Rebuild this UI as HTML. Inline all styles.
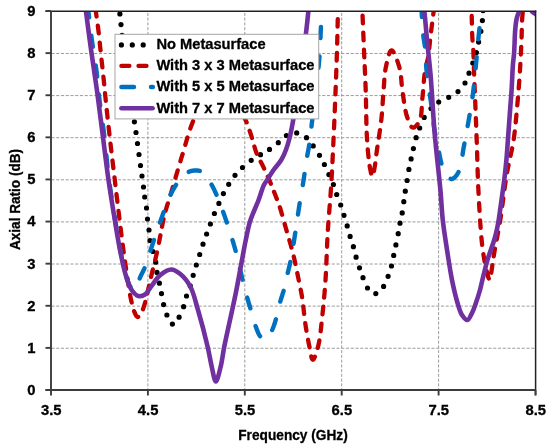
<!DOCTYPE html>
<html><head><meta charset="utf-8"><title>Axial Ratio chart</title>
<style>html,body{margin:0;padding:0;background:#fff;width:550px;height:447px;overflow:hidden}svg{display:block}</style>
</head><body>
<svg width="550" height="447" viewBox="0 0 550 447">
<defs><clipPath id="pa"><rect x="51" y="11" width="484.6" height="379"/></clipPath></defs>
<rect width="550" height="447" fill="#fff"/>
<g stroke="#9c9c9c" stroke-width="1" stroke-dasharray="3.1 1.65" fill="none"><line x1="51" y1="348.24" x2="535.5" y2="348.24" stroke-dashoffset="4.3"/><line x1="51" y1="306.13" x2="535.5" y2="306.13" stroke-dashoffset="4.3"/><line x1="51" y1="264.02" x2="535.5" y2="264.02" stroke-dashoffset="4.3"/><line x1="51" y1="221.91" x2="535.5" y2="221.91" stroke-dashoffset="4.3"/><line x1="51" y1="179.80" x2="535.5" y2="179.80" stroke-dashoffset="4.3"/><line x1="51" y1="137.69" x2="535.5" y2="137.69" stroke-dashoffset="4.3"/><line x1="51" y1="95.58" x2="535.5" y2="95.58" stroke-dashoffset="4.3"/><line x1="51" y1="53.47" x2="535.5" y2="53.47" stroke-dashoffset="4.3"/><line x1="147.90" y1="11" x2="147.90" y2="390" stroke-dashoffset="2.9"/><line x1="244.80" y1="11" x2="244.80" y2="390" stroke-dashoffset="2.9"/><line x1="341.70" y1="11" x2="341.70" y2="390" stroke-dashoffset="2.9"/><line x1="438.60" y1="11" x2="438.60" y2="390" stroke-dashoffset="2.9"/></g>
<g clip-path="url(#pa)">
<path d="M119.57,3.16h0 M119.90,13.90h0 M121.00,24.60h0 M122.05,35.46h0 M123.11,46.32h0 M124.27,57.17h0 M125.49,68.01h0 M126.84,78.83h0 M128.42,89.63h0 M130.18,100.39h0 M132.21,111.11h0 M134.40,121.80h0 M136.00,132.50h0 M137.50,143.50h0 M139.00,154.50h0 M140.50,165.50h0 M142.00,176.00h0 M143.50,187.00h0 M144.70,197.00h0 M146.50,208.00h0 M147.50,219.00h0 M149.00,230.00h0 M150.00,240.50h0 M153.00,251.50h0 M155.70,262.20h0 M157.00,272.40h0 M159.40,283.20h0 M161.50,293.60h0 M163.60,304.60h0 M166.90,315.00h0 M172.40,324.10h0 M179.10,317.20h0 M183.60,306.70h0 M186.50,296.00h0 M190.30,285.90h0 M193.20,275.30h0 M196.30,265.00h0 M199.70,254.50h0 M203.00,244.20h0 M206.60,234.00h0 M210.40,224.00h0 M214.40,213.50h0 M218.90,203.40h0 M223.40,193.60h0 M228.70,184.30h0 M235.00,175.30h0 M242.50,167.50h0 M251.20,160.30h0 M260.50,154.70h0 M269.50,149.40h0 M278.30,142.70h0 M286.40,135.50h0 M296.70,132.90h0 M306.50,137.70h0 M313.20,145.90h0 M319.50,155.30h0 M324.40,164.50h0 M328.90,174.60h0 M333.40,184.50h0 M336.70,194.50h0 M340.70,205.00h0 M344.00,215.30h0 M347.20,225.90h0 M350.10,236.40h0 M353.40,246.70h0 M356.10,257.20h0 M359.50,267.80h0 M363.00,277.70h0 M367.50,288.00h0 M375.80,293.60h0 M383.60,286.40h0 M388.10,276.30h0 M391.50,266.00h0 M393.70,255.40h0 M395.90,244.90h0 M398.20,233.70h0 M400.00,223.20h0 M402.20,212.90h0 M403.80,201.70h0 M405.30,191.20h0 M407.10,180.50h0 M408.90,169.40h0 M411.10,158.90h0 M413.40,148.60h0 M416.10,137.70h0 M419.70,128.00h0 M424.20,117.40h0 M431.00,108.50h0 M438.70,102.00h0 M448.70,97.30h0 M458.00,91.60h0 M465.00,83.00h0 M469.00,73.20h0 M472.80,63.00h0 M476.40,52.60h0 M478.60,42.10h0 M480.90,31.30h0 M482.40,20.60h0 M483.10,10.70h0" fill="none" stroke="#000" stroke-width="5.2" stroke-linecap="round"/>
<path d="M95.53,8.83 L95.65,9.83 L95.78,10.82 L95.90,11.81 L96.03,12.80 L96.17,13.79 L96.30,14.79 L96.44,15.78 L96.54,16.47 M97.81,25.68 L97.94,26.67 L98.07,27.66 L98.20,28.66 L98.32,29.65 L98.44,30.64 L98.55,31.64 L98.67,32.63 L98.74,33.32 M99.73,42.67 L99.84,43.67 L99.94,44.66 L100.04,45.66 L100.14,46.65 L100.25,47.64 L100.35,48.64 L100.46,49.63 L100.54,50.33 M101.55,59.67 L101.66,60.67 L101.77,61.66 L101.88,62.65 L101.99,63.65 L102.10,64.64 L102.21,65.64 L102.32,66.63 L102.39,67.33 M103.40,76.67 L103.51,77.67 L103.61,78.66 L103.71,79.65 L103.82,80.65 L103.92,81.64 L104.02,82.64 L104.11,83.63 L104.18,84.33 M105.02,93.17 L105.12,94.16 L105.21,95.16 L105.31,96.15 L105.42,97.15 L105.52,98.14 L105.62,99.14 L105.72,100.13 L105.80,100.83 M106.76,110.02 L106.87,111.02 L106.98,112.01 L107.08,113.01 L107.19,114.00 L107.30,114.99 L107.40,115.99 L107.51,116.98 L107.59,117.68 M108.59,126.87 L108.70,127.86 L108.81,128.86 L108.92,129.85 L109.03,130.84 L109.14,131.84 L109.26,132.83 L109.37,133.82 L109.45,134.52 M110.50,143.70 L110.61,144.70 L110.73,145.69 L110.84,146.68 L110.96,147.68 L111.08,148.67 L111.19,149.66 L111.31,150.66 L111.39,151.35 M112.48,160.53 L112.60,161.52 L112.71,162.52 L112.83,163.51 L112.95,164.50 L113.07,165.50 L113.19,166.49 L113.31,167.48 L113.39,168.18 M114.49,177.35 L114.60,178.35 L114.72,179.34 L114.84,180.33 L114.96,181.33 L115.08,182.32 L115.19,183.31 L115.31,184.31 L115.39,185.00 M116.49,194.18 L116.60,195.17 L116.72,196.17 L116.84,197.16 L116.96,198.15 L117.08,199.14 L117.20,200.14 L117.32,201.13 L117.40,201.83 M118.51,211.00 L118.63,211.99 L118.75,212.99 L118.87,213.98 L119.00,214.97 L119.12,215.96 L119.24,216.96 L119.36,217.95 L119.45,218.64 M120.57,227.82 L120.69,228.81 L120.82,229.80 L120.94,230.80 L121.06,231.79 L121.19,232.78 L121.31,233.77 L121.43,234.77 L121.52,235.46 M122.69,244.63 L122.82,245.62 L122.95,246.61 L123.08,247.60 L123.21,248.60 L123.34,249.59 L123.48,250.58 L123.61,251.57 L123.71,252.26 M124.99,261.42 L125.13,262.41 L125.27,263.40 L125.42,264.39 L125.56,265.38 L125.71,266.37 L125.85,267.35 L126.00,268.34 L126.10,269.04 M127.48,278.18 L127.62,279.17 L127.77,280.15 L127.92,281.14 L128.06,282.13 L128.21,283.12 L128.36,284.11 L128.50,285.10 L128.61,285.79 M130.07,294.92 L130.25,295.90 L130.44,296.89 L130.63,297.87 L130.83,298.85 L131.05,299.82 L131.28,300.80 L131.52,301.77 L131.70,302.44 M134.12,311.16 L134.43,312.11 L134.79,313.04 L135.22,313.94 L135.67,314.84 L136.16,315.71 L136.76,316.51 L137.59,317.01 L138.27,316.88 M142.98,309.26 L143.31,308.32 L143.63,307.38 L143.94,306.42 L144.24,305.47 L144.52,304.51 L144.80,303.55 L145.08,302.59 L145.27,301.92 M147.40,293.20 L147.61,292.22 L147.83,291.24 L148.04,290.27 L148.25,289.29 L148.46,288.31 L148.68,287.34 L148.89,286.36 L149.05,285.68 M151.05,276.93 L151.28,275.95 L151.50,274.98 L151.74,274.01 L151.97,273.03 L152.20,272.06 L152.44,271.09 L152.68,270.12 L152.85,269.44 M155.19,259.94 L155.42,258.97 L155.66,257.99 L155.89,257.02 L156.12,256.05 L156.35,255.07 L156.57,254.10 L156.80,253.13 L156.95,252.44 M158.96,242.87 L159.15,241.88 L159.33,240.90 L159.52,239.92 L159.70,238.94 L159.88,237.95 L160.07,236.97 L160.25,235.99 L160.38,235.30 M161.98,226.73 L162.17,225.75 L162.36,224.77 L162.56,223.79 L162.76,222.81 L162.96,221.83 L163.16,220.85 L163.37,219.87 L163.52,219.19 M165.62,210.73 L165.89,209.77 L166.17,208.81 L166.45,207.85 L166.74,206.89 L167.03,205.93 L167.32,204.98 L167.62,204.02 L167.82,203.35 M170.67,194.30 L170.96,193.34 L171.25,192.38 L171.53,191.42 L171.81,190.46 L172.10,189.50 L172.38,188.54 L172.66,187.58 L172.86,186.91 M175.51,177.80 L175.79,176.84 L176.07,175.88 L176.35,174.92 L176.63,173.96 L176.92,173.00 L177.20,172.04 L177.48,171.08 L177.68,170.41 M180.38,161.31 L180.67,160.35 L180.96,159.40 L181.25,158.44 L181.54,157.48 L181.84,156.53 L182.13,155.57 L182.42,154.62 L182.63,153.95 M185.30,144.84 L185.58,143.88 L185.86,142.92 L186.14,141.96 L186.42,141.00 L186.70,140.04 L186.99,139.08 L187.27,138.12 L187.47,137.45 M190.31,128.55 L190.64,127.60 L190.97,126.66 L191.31,125.72 L191.66,124.78 L192.02,123.85 L192.38,122.92 L192.76,121.99 L193.02,121.34 M196.58,113.28 L197.01,112.37 L197.43,111.47 L197.87,110.57 L198.32,109.68 L198.78,108.79 L199.25,107.91 L199.74,107.03 L200.09,106.43 M205.51,99.53 L206.26,98.86 L207.03,98.23 L207.82,97.61 L208.63,97.02 L209.45,96.45 L210.29,95.91 L211.15,95.41 L211.77,95.07 M220.21,93.10 L221.19,93.29 L222.15,93.56 L223.09,93.90 L224.01,94.30 L224.90,94.75 L225.77,95.25 L226.62,95.77 L227.20,96.16 M233.88,101.88 L234.55,102.63 L235.19,103.40 L235.82,104.18 L236.42,104.97 L237.02,105.77 L237.60,106.59 L238.17,107.41 L238.56,107.99 M243.13,115.53 L243.61,116.40 L244.09,117.28 L244.56,118.16 L245.02,119.05 L245.48,119.94 L245.91,120.84 L246.33,121.74 L246.61,122.39 M249.62,130.67 L249.93,131.62 L250.25,132.57 L250.57,133.51 L250.89,134.46 L251.20,135.41 L251.49,136.37 L251.78,137.32 L251.98,138.00 M254.37,146.48 L254.65,147.44 L254.94,148.39 L255.24,149.35 L255.55,150.30 L255.87,151.25 L256.20,152.19 L256.55,153.13 L256.81,153.78 M260.70,161.68 L261.17,162.57 L261.63,163.45 L262.09,164.34 L262.53,165.24 L262.97,166.14 L263.39,167.04 L263.82,167.95 L264.12,168.58 M267.78,176.60 L268.18,177.51 L268.58,178.43 L268.97,179.35 L269.37,180.27 L269.76,181.19 L270.15,182.11 L270.53,183.03 L270.80,183.68 M274.07,191.86 L274.43,192.79 L274.79,193.72 L275.16,194.66 L275.52,195.59 L275.88,196.52 L276.23,197.46 L276.59,198.39 L276.84,199.05 M279.88,207.32 L280.19,208.27 L280.48,209.22 L280.76,210.18 L281.04,211.14 L281.32,212.10 L281.60,213.06 L281.88,214.03 L282.07,214.70 M284.66,223.89 L284.93,224.86 L285.20,225.82 L285.47,226.78 L285.74,227.74 L286.01,228.71 L286.29,229.67 L286.57,230.63 L286.76,231.30 M289.36,240.15 L289.64,241.11 L289.91,242.07 L290.19,243.03 L290.46,243.99 L290.74,244.95 L291.01,245.91 L291.27,246.88 L291.46,247.55 M293.75,256.48 L293.98,257.46 L294.20,258.43 L294.42,259.41 L294.64,260.38 L294.86,261.36 L295.07,262.34 L295.28,263.31 L295.43,264.00 M297.29,273.03 L297.49,274.01 L297.68,274.99 L297.88,275.97 L298.08,276.95 L298.28,277.93 L298.48,278.91 L298.68,279.89 L298.82,280.57 M300.70,289.60 L300.89,290.58 L301.08,291.56 L301.27,292.54 L301.44,293.53 L301.62,294.51 L301.79,295.50 L301.95,296.48 L302.06,297.18 M303.27,306.31 L303.38,307.31 L303.50,308.30 L303.61,309.29 L303.72,310.29 L303.83,311.28 L303.94,312.28 L304.06,313.27 L304.13,313.96 M305.25,323.12 L305.39,324.11 L305.54,325.10 L305.69,326.08 L305.84,327.07 L306.00,328.06 L306.16,329.05 L306.32,330.03 L306.43,330.73 M308.04,339.80 L308.23,340.78 L308.42,341.77 L308.62,342.75 L308.82,343.73 L309.02,344.70 L309.23,345.68 L309.44,346.66 L309.57,347.35 M311.26,356.41 L311.51,357.38 L311.80,358.34 L312.19,359.25 L312.95,359.78 L313.68,359.12 L314.18,358.26 L314.61,357.36 L314.88,356.71 M317.70,347.90 L317.95,346.94 L318.21,345.97 L318.45,345.00 L318.67,344.02 L318.88,343.05 L319.08,342.07 L319.26,341.08 L319.38,340.39 M320.67,331.23 L320.79,330.24 L320.90,329.25 L321.01,328.25 L321.12,327.26 L321.22,326.26 L321.33,325.27 L321.43,324.28 L321.50,323.58 M322.46,314.38 L322.57,313.38 L322.68,312.39 L322.79,311.39 L322.89,310.40 L323.00,309.41 L323.10,308.41 L323.20,307.42 L323.27,306.72 M324.15,297.51 L324.23,296.51 L324.32,295.52 L324.40,294.52 L324.49,293.52 L324.57,292.53 L324.65,291.53 L324.73,290.53 L324.78,289.84 M325.46,280.61 L325.53,279.61 L325.59,278.61 L325.65,277.62 L325.72,276.62 L325.77,275.62 L325.83,274.62 L325.89,273.62 L325.92,272.92 M326.36,263.68 L326.40,262.68 L326.44,261.68 L326.48,260.68 L326.52,259.69 L326.56,258.69 L326.60,257.69 L326.64,256.69 L326.67,255.99 M327.05,246.74 L327.09,245.75 L327.13,244.75 L327.17,243.75 L327.22,242.75 L327.26,241.75 L327.31,240.75 L327.36,239.75 L327.39,239.05 M327.90,229.81 L327.97,228.82 L328.03,227.82 L328.10,226.82 L328.17,225.82 L328.24,224.83 L328.31,223.83 L328.38,222.83 L328.43,222.13 M329.13,212.91 L329.21,211.91 L329.29,210.91 L329.37,209.92 L329.45,208.92 L329.53,207.92 L329.61,206.93 L329.69,205.93 L329.75,205.23 M330.46,196.01 L330.53,195.01 L330.61,194.01 L330.68,193.02 L330.75,192.02 L330.82,191.02 L330.88,190.02 L330.95,189.03 L331.00,188.33 M331.56,179.09 L331.61,178.09 L331.67,177.10 L331.72,176.10 L331.78,175.10 L331.83,174.10 L331.89,173.10 L331.94,172.10 L331.98,171.40 M332.45,162.16 L332.50,161.17 L332.55,160.17 L332.60,159.17 L332.65,158.17 L332.69,157.17 L332.74,156.17 L332.79,155.17 L332.82,154.47 M333.26,145.23 L333.30,144.23 L333.35,143.23 L333.40,142.24 L333.44,141.24 L333.49,140.24 L333.54,139.24 L333.58,138.24 L333.61,137.54 M334.03,128.30 L334.07,127.30 L334.12,126.30 L334.16,125.30 L334.20,124.30 L334.25,123.30 L334.29,122.30 L334.33,121.31 L334.36,120.61 M334.75,111.39 L334.79,110.39 L334.83,109.39 L334.87,108.39 L334.91,107.39 L334.95,106.39 L334.99,105.39 L335.03,104.39 L335.06,103.69 M335.43,94.47 L335.47,93.47 L335.50,92.47 L335.54,91.47 L335.58,90.47 L335.62,89.48 L335.66,88.48 L335.70,87.48 L335.72,86.78 M336.07,77.56 L336.11,76.56 L336.14,75.56 L336.18,74.56 L336.21,73.56 L336.25,72.56 L336.29,71.56 L336.32,70.56 L336.35,69.86 M336.66,60.64 L336.70,59.64 L336.73,58.64 L336.76,57.64 L336.79,56.64 L336.82,55.64 L336.86,54.64 L336.89,53.64 L336.91,52.94 M337.18,43.72 L337.20,42.72 L337.23,41.72 L337.25,40.72 L337.28,39.72 L337.30,38.72 L337.33,37.72 L337.35,36.72 L337.37,36.02 M337.58,26.72 L337.60,25.72 L337.63,24.72 L337.65,23.72 L337.67,22.72 L337.70,21.72 L337.72,20.72 L337.75,19.72 L337.77,19.03 M338.05,9.73 L338.09,8.73 L338.13,7.73 L338.17,6.73 L338.22,5.73 L338.27,4.73 L338.32,3.74 L338.37,2.74 L338.40,2.04" fill="none" stroke="#C00000" stroke-width="4.3" stroke-linecap="round" stroke-linejoin="round"/>
<path d="M362.00,0.00 L362.04,1.00 L362.07,2.00 L362.11,3.00 L362.14,4.00 L362.18,5.00 L362.21,6.00 L362.23,6.37 M362.58,15.67 L362.62,16.67 L362.66,17.67 L362.70,18.67 L362.74,19.66 L362.79,20.66 L362.83,21.66 L362.87,22.66 L362.90,23.36 M363.28,32.65 L363.32,33.65 L363.36,34.65 L363.40,35.65 L363.44,36.65 L363.49,37.65 L363.53,38.65 L363.57,39.65 L363.60,40.35 M363.98,49.64 L364.03,50.64 L364.07,51.64 L364.11,52.64 L364.16,53.64 L364.20,54.63 L364.24,55.63 L364.29,56.63 L364.32,57.33 M364.72,66.26 L364.77,67.26 L364.81,68.26 L364.86,69.26 L364.90,70.26 L364.95,71.25 L364.99,72.25 L365.04,73.25 L365.07,73.95 M365.44,82.88 L365.48,83.88 L365.52,84.88 L365.55,85.88 L365.59,86.88 L365.63,87.88 L365.66,88.88 L365.70,89.88 L365.72,90.58 M365.95,99.51 L365.98,100.51 L366.00,101.51 L366.02,102.51 L366.04,103.51 L366.05,104.51 L366.07,105.51 L366.09,106.51 L366.10,107.21 M366.26,116.14 L366.28,117.14 L366.30,118.14 L366.32,119.14 L366.34,120.14 L366.36,121.14 L366.39,122.14 L366.41,123.14 L366.43,123.84 M366.71,132.77 L366.76,133.77 L366.80,134.77 L366.85,135.77 L366.91,136.77 L366.96,137.77 L367.02,138.77 L367.07,139.76 L367.12,140.46 M367.77,149.37 L367.86,150.37 L367.95,151.37 L368.04,152.36 L368.14,153.36 L368.23,154.35 L368.34,155.35 L368.44,156.34 L368.51,157.04 M369.62,165.90 L369.79,166.89 L369.97,167.87 L370.17,168.85 L370.36,169.84 L370.55,170.82 L370.75,171.80 L370.96,172.78 L371.11,173.46 M373.93,171.03 L374.11,170.04 L374.30,169.06 L374.48,168.08 L374.67,167.09 L374.84,166.11 L375.00,165.12 L375.15,164.13 L375.25,163.44 M376.38,154.36 L376.50,153.36 L376.63,152.37 L376.77,151.38 L376.90,150.39 L377.04,149.40 L377.18,148.41 L377.33,147.42 L377.43,146.73 M378.82,137.68 L378.97,136.69 L379.12,135.70 L379.27,134.71 L379.42,133.73 L379.57,132.74 L379.72,131.75 L379.86,130.76 L379.96,130.07 M381.17,120.99 L381.29,120.00 L381.40,119.01 L381.51,118.01 L381.61,117.02 L381.70,116.02 L381.80,115.03 L381.88,114.03 L381.94,113.33 M382.61,104.20 L382.67,103.20 L382.73,102.21 L382.80,101.21 L382.86,100.21 L382.92,99.21 L382.99,98.21 L383.05,97.22 L383.10,96.52 M383.81,87.39 L383.88,86.39 L383.95,85.40 L384.02,84.40 L384.09,83.40 L384.15,82.40 L384.22,81.41 L384.29,80.41 L384.33,79.71 M385.25,70.60 L385.41,69.62 L385.58,68.63 L385.77,67.65 L385.97,66.67 L386.18,65.69 L386.39,64.71 L386.60,63.74 L386.75,63.05 M389.05,54.20 L389.39,53.26 L389.78,52.33 L390.23,51.44 L390.83,50.65 L391.73,50.32 L392.55,50.87 L393.18,51.64 L393.56,52.23 M397.26,60.75 L397.59,61.69 L397.91,62.64 L398.22,63.59 L398.52,64.54 L398.82,65.50 L399.11,66.45 L399.39,67.41 L399.57,68.09 M401.07,77.26 L401.17,78.25 L401.26,79.25 L401.35,80.25 L401.44,81.24 L401.52,82.24 L401.61,83.24 L401.69,84.23 L401.75,84.93 M402.90,94.16 L403.04,95.15 L403.19,96.14 L403.33,97.13 L403.47,98.12 L403.61,99.11 L403.75,100.10 L403.89,101.08 L403.99,101.78 M405.55,110.94 L405.77,111.92 L405.99,112.90 L406.23,113.87 L406.49,114.83 L406.77,115.79 L407.08,116.74 L407.40,117.69 L407.63,118.35 M411.43,126.79 L412.20,127.42 L413.16,127.61 L414.11,127.32 L414.97,126.80 L415.74,126.17 L416.46,125.48 L417.12,124.73 L417.56,124.18 M421.01,115.67 L421.16,114.68 L421.28,113.69 L421.39,112.70 L421.48,111.70 L421.57,110.70 L421.64,109.71 L421.71,108.71 L421.75,108.01 M422.33,98.73 L422.42,97.73 L422.53,96.74 L422.64,95.75 L422.74,94.75 L422.83,93.75 L422.92,92.76 L423.01,91.76 L423.07,91.07 M423.81,81.80 L423.89,80.80 L423.98,79.80 L424.07,78.81 L424.17,77.81 L424.26,76.82 L424.37,75.82 L424.48,74.83 L424.56,74.13 M426.28,65.00 L426.53,64.03 L426.78,63.06 L427.03,62.09 L427.27,61.12 L427.50,60.15 L427.72,59.18 L427.93,58.20 L428.06,57.51 M429.27,48.29 L429.37,47.30 L429.47,46.30 L429.57,45.31 L429.67,44.31 L429.76,43.32 L429.86,42.32 L429.96,41.33 L430.03,40.63 M431.10,31.39 L431.23,30.40 L431.35,29.41 L431.48,28.42 L431.60,27.42 L431.73,26.43 L431.86,25.44 L431.99,24.45 L432.08,23.75 M433.26,14.53 L433.38,13.54 L433.51,12.54 L433.63,11.55 L433.75,10.56 L433.87,9.57 L433.99,8.57 L434.11,7.58 L434.19,6.89" fill="none" stroke="#C00000" stroke-width="4.3" stroke-linecap="round" stroke-linejoin="round"/>
<path d="M471.20,0.00 L471.24,1.00 L471.27,2.00 L471.31,3.00 L471.35,4.00 L471.39,5.00 L471.43,6.00 L471.45,6.66 M471.73,15.96 L471.75,16.96 L471.77,17.96 L471.79,18.96 L471.81,19.96 L471.83,20.96 L471.85,21.96 L471.88,22.96 L471.89,23.66 M472.14,32.95 L472.17,33.95 L472.21,34.95 L472.26,35.95 L472.31,36.95 L472.36,37.95 L472.43,38.95 L472.50,39.94 L472.55,40.64 M473.30,49.96 L473.35,50.96 L473.40,51.96 L473.44,52.95 L473.48,53.95 L473.52,54.95 L473.56,55.95 L473.59,56.95 L473.61,57.65 M473.88,66.99 L473.91,67.99 L473.94,68.99 L473.97,69.99 L474.00,70.99 L474.04,71.99 L474.07,72.99 L474.11,73.99 L474.13,74.69 M474.50,84.03 L474.54,85.03 L474.59,86.03 L474.63,87.03 L474.67,88.02 L474.71,89.02 L474.75,90.02 L474.79,91.02 L474.82,91.72 M475.21,101.06 L475.25,102.06 L475.29,103.06 L475.33,104.06 L475.37,105.06 L475.40,106.06 L475.44,107.05 L475.48,108.05 L475.51,108.75 M475.88,118.09 L475.92,119.09 L475.95,120.09 L475.99,121.09 L476.03,122.09 L476.07,123.09 L476.11,124.09 L476.15,125.09 L476.17,125.79 M476.52,135.13 L476.56,136.13 L476.60,137.13 L476.63,138.12 L476.67,139.12 L476.70,140.12 L476.74,141.12 L476.77,142.12 L476.80,142.82 M477.09,152.16 L477.12,153.16 L477.15,154.16 L477.17,155.16 L477.20,156.16 L477.23,157.16 L477.26,158.16 L477.29,159.16 L477.31,159.86 M477.58,169.20 L477.61,170.20 L477.65,171.20 L477.68,172.20 L477.71,173.20 L477.74,174.20 L477.78,175.20 L477.81,176.20 L477.84,176.90 M478.21,186.24 L478.25,187.24 L478.30,188.23 L478.35,189.23 L478.40,190.23 L478.45,191.23 L478.50,192.23 L478.55,193.23 L478.58,193.93 M479.08,203.26 L479.14,204.26 L479.19,205.26 L479.25,206.26 L479.31,207.25 L479.37,208.25 L479.42,209.25 L479.48,210.25 L479.52,210.95 M480.11,220.28 L480.18,221.27 L480.24,222.27 L480.31,223.27 L480.38,224.27 L480.45,225.26 L480.52,226.26 L480.59,227.26 L480.64,227.96 M481.39,237.27 L481.48,238.27 L481.57,239.27 L481.67,240.26 L481.77,241.26 L481.87,242.25 L481.97,243.25 L482.08,244.24 L482.16,244.94 M483.38,254.20 L483.54,255.19 L483.70,256.18 L483.86,257.16 L484.03,258.15 L484.20,259.13 L484.38,260.12 L484.57,261.10 L484.70,261.78 M486.76,271.17 L486.97,272.15 L487.18,273.13 L487.39,274.10 L487.63,275.07 L487.89,276.04 L488.20,276.99 L488.54,277.93 L488.79,278.58 M491.31,272.72 L491.44,271.72 L491.56,270.73 L491.69,269.74 L491.84,268.75 L491.98,267.76 L492.13,266.77 L492.27,265.78 L492.37,265.09 M493.68,256.30 L493.84,255.31 L494.00,254.32 L494.16,253.34 L494.33,252.35 L494.50,251.37 L494.67,250.38 L494.85,249.40 L494.97,248.71 M496.72,239.59 L496.91,238.61 L497.10,237.62 L497.28,236.64 L497.46,235.66 L497.65,234.68 L497.83,233.69 L498.02,232.71 L498.15,232.02 M499.81,222.89 L499.97,221.90 L500.13,220.91 L500.29,219.93 L500.45,218.94 L500.60,217.95 L500.75,216.96 L500.89,215.97 L500.99,215.28 M502.26,206.08 L502.39,205.09 L502.52,204.10 L502.65,203.11 L502.79,202.11 L502.92,201.12 L503.05,200.13 L503.18,199.14 L503.27,198.45 M504.52,189.25 L504.66,188.25 L504.80,187.26 L504.94,186.27 L505.08,185.28 L505.22,184.29 L505.36,183.30 L505.51,182.32 L505.61,181.62 M507.08,172.45 L507.26,171.47 L507.44,170.49 L507.63,169.50 L507.82,168.52 L508.01,167.54 L508.21,166.56 L508.41,165.58 L508.55,164.90 M510.53,155.82 L510.74,154.85 L510.96,153.87 L511.17,152.89 L511.38,151.91 L511.59,150.94 L511.79,149.96 L511.99,148.98 L512.13,148.29 M513.73,139.15 L513.87,138.16 L514.01,137.17 L514.14,136.17 L514.28,135.18 L514.40,134.19 L514.53,133.20 L514.65,132.21 L514.73,131.51 M515.72,122.28 L515.82,121.28 L515.92,120.29 L516.01,119.29 L516.11,118.30 L516.20,117.30 L516.29,116.31 L516.38,115.31 L516.44,114.61 M517.26,105.36 L517.35,104.37 L517.44,103.37 L517.53,102.37 L517.62,101.38 L517.71,100.38 L517.80,99.39 L517.89,98.39 L517.95,97.69 M518.71,88.44 L518.79,87.44 L518.86,86.45 L518.94,85.45 L519.01,84.45 L519.09,83.45 L519.16,82.46 L519.23,81.46 L519.29,80.76 M519.92,71.48 L519.98,70.48 L520.04,69.49 L520.10,68.49 L520.16,67.49 L520.22,66.49 L520.27,65.49 L520.33,64.49 L520.37,63.80 M520.85,54.51 L520.90,53.51 L520.95,52.51 L520.99,51.51 L521.04,50.51 L521.09,49.51 L521.13,48.51 L521.18,47.52 L521.21,46.82 M521.59,37.52 L521.62,36.52 L521.65,35.53 L521.68,34.53 L521.70,33.53 L521.73,32.53 L521.75,31.53 L521.77,30.53 L521.79,29.83 M522.07,20.53 L522.13,19.53 L522.19,18.54 L522.27,17.54 L522.35,16.54 L522.44,15.55 L522.53,14.55 L522.62,13.55 L522.68,12.86 M523.02,3.56 L523.04,2.56 L523.06,1.56 L523.09,0.56 L523.10,0.00" fill="none" stroke="#C00000" stroke-width="4.3" stroke-linecap="round" stroke-linejoin="round"/>
<path d="M87.66,6.21 L87.80,7.21 L87.93,8.20 L88.06,9.19 L88.19,10.18 L88.32,11.17 L88.45,12.16 L88.57,13.15 L88.70,14.15 L88.82,15.14 L88.94,16.13 L89.06,17.13 L89.09,17.42 M91.29,35.59 L91.42,36.58 L91.54,37.57 L91.67,38.57 L91.81,39.56 L91.94,40.55 L92.07,41.54 L92.21,42.53 L92.35,43.52 L92.50,44.51 L92.64,45.50 L92.79,46.49 L92.84,46.78 M95.73,65.40 L95.88,66.39 L96.02,67.38 L96.15,68.37 L96.29,69.36 L96.42,70.36 L96.54,71.35 L96.67,72.34 L96.78,73.33 L96.90,74.33 L97.01,75.32 L97.12,76.31 L97.15,76.61 M98.88,94.38 L98.98,95.38 L99.09,96.37 L99.20,97.37 L99.31,98.36 L99.42,99.35 L99.54,100.35 L99.66,101.34 L99.78,102.33 L99.91,103.32 L100.04,104.32 L100.17,105.31 L100.20,105.61 M102.87,124.80 L103.01,125.79 L103.14,126.78 L103.27,127.77 L103.41,128.77 L103.54,129.76 L103.67,130.75 L103.79,131.74 L103.92,132.73 L104.04,133.72 L104.17,134.72 L104.29,135.71 L104.32,136.01 M106.38,155.28 L106.48,156.27 L106.58,157.27 L106.68,158.26 L106.78,159.26 L106.88,160.25 L106.99,161.25 L107.09,162.24 L107.19,163.24 L107.29,164.23 L107.40,165.23 L107.50,166.22 L107.53,166.52 M109.88,185.76 L110.02,186.75 L110.16,187.74 L110.30,188.73 L110.44,189.72 L110.59,190.71 L110.73,191.69 L110.88,192.68 L111.03,193.67 L111.18,194.66 L111.33,195.65 L111.48,196.64 L111.52,196.93 M114.57,216.07 L114.73,217.06 L114.89,218.05 L115.05,219.04 L115.20,220.02 L115.36,221.01 L115.52,222.00 L115.68,222.99 L115.84,223.97 L116.00,224.96 L116.16,225.95 L116.32,226.93 L116.36,227.23 M119.62,246.34 L119.80,247.32 L119.98,248.30 L120.16,249.28 L120.35,250.27 L120.54,251.25 L120.73,252.23 L120.91,253.21 L121.10,254.20 L121.29,255.18 L121.48,256.16 L121.67,257.14 L121.73,257.44 M126.16,276.30 L126.42,277.26 L126.70,278.22 L126.98,279.18 L127.28,280.14 L127.59,281.09 L127.92,282.03 L128.28,282.96 L128.68,283.88 L129.11,284.78 L129.59,285.66 L130.11,286.52 L130.27,286.77 M139.68,278.48 L140.04,277.55 L140.44,276.63 L140.85,275.72 L141.29,274.82 L141.73,273.92 L142.18,273.03 L142.63,272.14 L143.08,271.24 L143.52,270.34 L143.95,269.44 L144.36,268.53 L144.48,268.25 M150.38,250.76 L150.70,249.81 L151.01,248.86 L151.33,247.91 L151.65,246.97 L151.96,246.02 L152.28,245.07 L152.59,244.12 L152.91,243.17 L153.22,242.22 L153.54,241.27 L153.86,240.32 L153.95,240.04 M159.94,222.57 L160.28,221.63 L160.61,220.68 L160.95,219.74 L161.28,218.80 L161.62,217.86 L161.95,216.92 L162.29,215.97 L162.62,215.03 L162.96,214.09 L163.29,213.15 L163.63,212.20 L163.73,211.92 M170.57,194.78 L171.01,193.88 L171.45,192.98 L171.90,192.09 L172.36,191.20 L172.82,190.31 L173.30,189.44 L173.80,188.56 L174.30,187.70 L174.82,186.85 L175.35,186.00 L175.89,185.16 L176.05,184.91 M188.74,171.90 L189.66,171.53 L190.61,171.20 L191.57,170.93 L192.55,170.71 L193.53,170.55 L194.53,170.46 L195.53,170.42 L196.53,170.44 L197.52,170.52 L198.51,170.67 L199.48,170.91 L199.77,170.99 M211.54,184.59 L212.03,185.46 L212.51,186.34 L212.98,187.22 L213.43,188.12 L213.87,189.01 L214.30,189.92 L214.72,190.82 L215.13,191.73 L215.54,192.65 L215.94,193.56 L216.34,194.48 L216.46,194.75 M223.13,211.87 L223.46,212.81 L223.80,213.75 L224.13,214.69 L224.46,215.64 L224.79,216.58 L225.12,217.53 L225.45,218.47 L225.77,219.42 L226.10,220.36 L226.42,221.31 L226.74,222.26 L226.84,222.54 M232.47,240.02 L232.76,240.98 L233.05,241.94 L233.34,242.90 L233.62,243.86 L233.90,244.82 L234.18,245.78 L234.46,246.74 L234.73,247.70 L235.01,248.66 L235.28,249.62 L235.55,250.59 L235.63,250.87 M239.99,268.71 L240.21,269.69 L240.43,270.67 L240.65,271.64 L240.87,272.62 L241.10,273.59 L241.32,274.57 L241.55,275.54 L241.78,276.51 L242.01,277.49 L242.24,278.46 L242.48,279.43 L242.55,279.72 M247.16,297.50 L247.43,298.46 L247.70,299.43 L247.98,300.39 L248.26,301.35 L248.55,302.30 L248.84,303.26 L249.13,304.22 L249.42,305.18 L249.71,306.13 L250.00,307.09 L250.29,308.05 L250.37,308.33 M255.55,325.95 L255.89,326.89 L256.23,327.83 L256.57,328.77 L256.92,329.71 L257.28,330.64 L257.65,331.57 L258.03,332.49 L258.45,333.41 L258.89,334.30 L259.37,335.18 L259.91,336.02 L260.09,336.26 M272.13,330.03 L272.54,329.12 L272.93,328.20 L273.30,327.27 L273.65,326.33 L273.98,325.39 L274.31,324.44 L274.62,323.49 L274.92,322.54 L275.22,321.59 L275.51,320.63 L275.80,319.67 L275.89,319.38 M280.25,301.55 L280.54,300.59 L280.83,299.63 L281.13,298.68 L281.43,297.73 L281.74,296.77 L282.05,295.82 L282.35,294.87 L282.65,293.92 L282.95,292.96 L283.24,292.01 L283.53,291.05 L283.61,290.76 M287.76,272.87 L288.00,271.90 L288.23,270.93 L288.47,269.95 L288.71,268.98 L288.95,268.01 L289.19,267.04 L289.42,266.07 L289.66,265.10 L289.88,264.12 L290.11,263.15 L290.32,262.17 L290.39,261.88 M293.57,243.79 L293.72,242.80 L293.87,241.81 L294.03,240.82 L294.18,239.84 L294.33,238.85 L294.48,237.86 L294.64,236.87 L294.79,235.88 L294.94,234.90 L295.10,233.91 L295.25,232.92 L295.30,232.62 M297.98,214.45 L298.13,213.46 L298.27,212.47 L298.42,211.48 L298.56,210.49 L298.71,209.50 L298.86,208.52 L299.01,207.53 L299.16,206.54 L299.31,205.55 L299.46,204.56 L299.61,203.57 L299.66,203.28 M302.76,185.12 L302.93,184.13 L303.09,183.14 L303.25,182.16 L303.41,181.17 L303.57,180.18 L303.73,179.19 L303.88,178.21 L304.02,177.22 L304.17,176.23 L304.31,175.24 L304.45,174.25 L304.50,173.95 M307.24,155.73 L307.43,154.75 L307.61,153.77 L307.80,152.79 L307.99,151.80 L308.17,150.82 L308.36,149.84 L308.54,148.86 L308.72,147.87 L308.89,146.89 L309.05,145.90 L309.21,144.91 L309.26,144.62 M311.49,126.45 L311.61,125.46 L311.72,124.47 L311.84,123.47 L311.96,122.48 L312.08,121.49 L312.20,120.50 L312.32,119.50 L312.45,118.51 L312.57,117.52 L312.70,116.53 L312.82,115.54 L312.86,115.24 M315.16,97.08 L315.28,96.09 L315.40,95.10 L315.52,94.10 L315.64,93.11 L315.76,92.12 L315.87,91.13 L315.98,90.13 L316.10,89.14 L316.21,88.14 L316.32,87.15 L316.44,86.16 L316.47,85.86 M318.46,67.67 L318.56,66.67 L318.65,65.68 L318.75,64.68 L318.84,63.69 L318.94,62.69 L319.03,61.69 L319.11,60.70 L319.20,59.70 L319.28,58.71 L319.37,57.71 L319.45,56.71 L319.47,56.41 M320.47,38.14 L320.51,37.14 L320.55,36.14 L320.59,35.14 L320.63,34.14 L320.67,33.15 L320.71,32.15 L320.75,31.15 L320.79,30.15 L320.84,29.15 L320.88,28.15 L320.93,27.15 L320.94,26.85 M321.87,8.58 L321.89,7.58 L321.91,6.58 L321.93,5.58 L321.94,4.58 L321.95,3.58 L321.96,2.58 L321.98,1.58 L321.99,0.58 L322.00,0.00" fill="none" stroke="#0070C0" stroke-width="4.4" stroke-linecap="round" stroke-linejoin="round"/>
<path d="M421.30,5.79 L421.36,6.79 L421.41,7.79 L421.47,8.79 L421.53,9.79 L421.59,10.79 L421.65,11.78 L421.71,12.78 L421.76,13.78 L421.82,14.78 L421.88,15.78 L421.93,16.78 L421.95,17.08 M423.26,35.33 L423.37,36.32 L423.50,37.31 L423.65,38.30 L423.80,39.29 L423.96,40.28 L424.12,41.26 L424.28,42.25 L424.44,43.24 L424.60,44.23 L424.75,45.21 L424.88,46.21 L424.92,46.50 M426.09,64.76 L426.15,65.76 L426.22,66.76 L426.30,67.75 L426.38,68.75 L426.47,69.75 L426.58,70.74 L426.68,71.74 L426.80,72.73 L426.91,73.72 L427.04,74.71 L427.16,75.71 L427.20,76.00 M429.79,94.12 L429.93,95.11 L430.07,96.10 L430.21,97.09 L430.35,98.08 L430.49,99.07 L430.63,100.06 L430.77,101.05 L430.91,102.04 L431.05,103.03 L431.19,104.02 L431.32,105.01 L431.37,105.31 M433.58,123.47 L433.70,124.47 L433.83,125.46 L433.97,126.45 L434.11,127.44 L434.25,128.43 L434.41,129.42 L434.57,130.40 L434.73,131.39 L434.91,132.37 L435.08,133.36 L435.27,134.34 L435.32,134.64 M439.06,152.55 L439.26,153.53 L439.45,154.51 L439.65,155.49 L439.84,156.47 L440.04,157.45 L440.24,158.43 L440.44,159.41 L440.65,160.39 L440.87,161.37 L441.10,162.34 L441.35,163.31 L441.42,163.60 M450.58,178.84 L451.56,179.03 L452.53,178.84 L453.42,178.37 L454.22,177.78 L454.96,177.10 L455.65,176.38 L456.30,175.62 L456.90,174.83 L457.45,173.99 L457.94,173.12 L458.39,172.22 L458.51,171.95 M462.55,154.66 L462.69,153.67 L462.84,152.68 L462.99,151.69 L463.14,150.71 L463.30,149.72 L463.47,148.73 L463.64,147.75 L463.82,146.76 L464.00,145.78 L464.18,144.80 L464.36,143.81 L464.41,143.52 M467.65,125.99 L467.82,125.01 L468.00,124.03 L468.17,123.04 L468.34,122.06 L468.52,121.07 L468.69,120.09 L468.87,119.10 L469.04,118.12 L469.22,117.13 L469.39,116.15 L469.56,115.16 L469.62,114.87 M472.49,97.28 L472.62,96.29 L472.76,95.30 L472.89,94.31 L473.02,93.32 L473.14,92.33 L473.26,91.33 L473.38,90.34 L473.49,89.35 L473.61,88.35 L473.72,87.36 L473.82,86.37 L473.86,86.07 M475.63,68.34 L475.73,67.34 L475.82,66.35 L475.91,65.35 L476.00,64.36 L476.09,63.36 L476.18,62.36 L476.27,61.37 L476.37,60.37 L476.46,59.38 L476.55,58.38 L476.64,57.38 L476.67,57.09 M478.31,39.34 L478.41,38.35 L478.52,37.35 L478.62,36.36 L478.72,35.37 L478.82,34.37 L478.93,33.38 L479.03,32.38 L479.13,31.39 L479.24,30.39 L479.34,29.40 L479.44,28.40 L479.47,28.10 M481.07,9.87 L481.13,8.88 L481.18,7.88 L481.22,6.88 L481.27,5.88 L481.31,4.88 L481.34,3.88 L481.38,2.88 L481.42,1.88 L481.46,0.88 L481.50,0.00" fill="none" stroke="#0070C0" stroke-width="4.4" stroke-linecap="round" stroke-linejoin="round"/>
<path d="M84.30,0.00 C84.83,3.67 85.24,6.25 85.90,11.00 C87.11,19.70 89.03,35.28 90.80,48.00 C92.68,61.56 94.95,75.75 96.90,90.00 C98.92,104.73 100.77,120.00 102.70,135.00 C104.63,150.00 106.49,165.95 108.50,180.00 C110.27,192.41 112.08,203.34 114.00,215.00 C115.92,226.67 117.84,239.23 120.00,250.00 C121.88,259.34 123.66,268.67 126.00,276.00 C127.80,281.62 129.48,287.01 132.00,290.50 C133.85,293.06 136.10,295.43 138.40,296.00 C140.46,296.51 142.98,295.80 145.00,294.50 C147.64,292.80 149.57,288.42 152.00,285.30 C154.56,282.02 156.77,277.94 160.00,275.30 C163.21,272.67 167.77,269.53 171.30,269.50 C174.38,269.48 177.21,271.57 180.00,273.80 C183.62,276.69 187.47,281.31 190.30,286.50 C193.78,292.88 195.42,301.24 198.00,310.00 C201.21,320.90 205.25,336.52 207.70,347.00 C209.49,354.66 210.33,360.89 211.80,367.00 C213.06,372.24 214.34,381.46 215.80,381.50 C217.27,381.54 219.26,372.27 220.60,367.00 C222.15,360.92 222.79,354.15 224.20,347.00 C225.85,338.66 228.05,329.08 230.00,320.00 C231.98,310.75 234.06,301.66 236.00,292.00 C238.07,281.70 240.24,269.37 242.00,260.00 C243.38,252.67 244.34,246.88 245.70,240.40 C247.05,233.98 248.09,227.75 250.10,221.30 C252.27,214.36 256.06,206.68 258.50,200.20 C260.56,194.74 262.05,188.73 263.90,185.00 C265.08,182.62 266.16,181.59 267.50,179.50 C269.26,176.77 271.30,173.16 273.50,170.00 C275.84,166.65 279.09,163.45 281.20,160.00 C283.17,156.77 284.52,153.61 285.90,150.00 C287.43,146.00 288.62,141.72 289.80,137.00 C291.17,131.52 292.21,125.44 293.40,119.00 C294.77,111.58 296.21,103.46 297.50,95.00 C298.93,85.57 300.11,75.16 301.50,65.00 C302.94,54.50 304.79,42.68 306.00,33.00 C307.00,24.99 307.76,17.08 308.40,11.00 C308.85,6.71 309.13,3.67 309.50,0.00" fill="none" stroke="#7030A0" stroke-width="4.6" stroke-linecap="round" stroke-linejoin="round"/>
<path d="M422.50,0.00 C423.10,3.67 423.72,6.45 424.30,11.00 C425.24,18.36 426.02,29.95 427.00,40.00 C428.07,50.89 429.39,61.11 430.50,74.00 C431.96,90.92 432.94,113.35 434.60,132.80 C436.24,152.01 438.95,173.93 440.40,190.00 C441.46,201.68 441.67,210.14 442.80,220.30 C443.95,230.67 445.73,241.43 447.30,251.60 C448.80,261.30 450.20,271.11 452.00,280.00 C453.61,287.97 455.47,296.14 457.40,302.50 C458.86,307.32 459.96,311.94 462.00,315.00 C463.52,317.28 465.78,320.20 467.40,320.00 C469.13,319.79 470.70,315.50 472.00,313.00 C473.35,310.41 474.16,307.88 475.30,304.70 C476.80,300.52 478.77,294.41 480.00,290.00 C480.99,286.45 481.51,283.56 482.30,280.30 C483.11,276.99 483.95,273.64 484.80,270.30 C485.65,266.94 486.41,263.55 487.40,260.20 C488.40,256.81 489.67,253.47 490.80,250.10 C491.93,246.73 493.19,243.38 494.20,240.00 C495.19,236.68 496.07,233.24 496.80,230.00 C497.48,226.98 497.90,224.80 498.50,221.20 C499.45,215.53 500.61,206.32 501.60,199.20 C502.54,192.48 503.50,186.14 504.30,179.60 C505.10,173.07 505.80,166.57 506.40,160.00 C507.00,153.37 507.36,147.34 507.90,140.00 C508.57,131.01 509.43,118.99 510.10,110.00 C510.64,102.66 511.15,97.04 511.60,90.00 C512.10,82.13 512.38,71.82 512.90,65.00 C513.26,60.27 513.76,57.65 514.10,53.00 C514.57,46.57 514.69,36.09 515.20,30.00 C515.54,25.98 515.82,22.89 516.40,20.00 C516.86,17.73 517.31,15.68 518.10,14.00 C518.75,12.61 519.42,11.43 520.50,10.50 C521.67,9.49 523.50,8.61 525.00,8.30 C526.34,8.03 527.84,7.99 529.00,8.50 C530.19,9.03 530.89,10.54 532.00,11.50 C533.20,12.54 534.67,13.50 536.00,14.50" fill="none" stroke="#7030A0" stroke-width="4.6" stroke-linecap="round" stroke-linejoin="round"/>
</g>
<g fill="none">
<line x1="45.5" y1="11.3" x2="536.3" y2="11.3" stroke="#222" stroke-width="1.4"/>
<line x1="535.6" y1="10.6" x2="535.6" y2="395.3" stroke="#222" stroke-width="1.5"/>
<g stroke="#3c3c3c" stroke-width="1.9">
<line x1="51" y1="11" x2="51" y2="390"/>
<line x1="45.5" y1="390" x2="535.6" y2="390"/>
<line x1="45.5" y1="390.00" x2="51" y2="390.00"/><line x1="45.5" y1="347.89" x2="51" y2="347.89"/><line x1="45.5" y1="305.78" x2="51" y2="305.78"/><line x1="45.5" y1="263.67" x2="51" y2="263.67"/><line x1="45.5" y1="221.56" x2="51" y2="221.56"/><line x1="45.5" y1="179.45" x2="51" y2="179.45"/><line x1="45.5" y1="137.34" x2="51" y2="137.34"/><line x1="45.5" y1="95.23" x2="51" y2="95.23"/><line x1="45.5" y1="53.12" x2="51" y2="53.12"/><line x1="45.5" y1="11.01" x2="51" y2="11.01"/><line x1="51.00" y1="390" x2="51.00" y2="395.5"/><line x1="147.90" y1="390" x2="147.90" y2="395.5"/><line x1="244.80" y1="390" x2="244.80" y2="395.5"/><line x1="341.70" y1="390" x2="341.70" y2="395.5"/><line x1="438.60" y1="390" x2="438.60" y2="395.5"/><line x1="535.50" y1="390" x2="535.50" y2="395.5"/>
</g>
</g>
<g font-family="Liberation Sans, Arial, sans-serif" font-weight="bold" font-size="14.8" fill="#000" stroke="#000" stroke-width="0.3">
<text x="35.6" y="394.90" text-anchor="end">0</text><text x="35.6" y="352.79" text-anchor="end">1</text><text x="35.6" y="310.68" text-anchor="end">2</text><text x="35.6" y="268.57" text-anchor="end">3</text><text x="35.6" y="226.46" text-anchor="end">4</text><text x="35.6" y="184.35" text-anchor="end">5</text><text x="35.6" y="142.24" text-anchor="end">6</text><text x="35.6" y="100.13" text-anchor="end">7</text><text x="35.6" y="58.02" text-anchor="end">8</text><text x="35.6" y="15.91" text-anchor="end">9</text>
<text x="51.20" y="415.3" text-anchor="middle">3.5</text><text x="148.10" y="415.3" text-anchor="middle">4.5</text><text x="245.00" y="415.3" text-anchor="middle">5.5</text><text x="341.90" y="415.3" text-anchor="middle">6.5</text><text x="438.80" y="415.3" text-anchor="middle">7.5</text><text x="535.70" y="415.3" text-anchor="middle">8.5</text>
</g>
<g font-family="Liberation Sans, Arial, sans-serif" font-weight="bold" font-size="14.5" fill="#000" stroke="#000" stroke-width="0.3">
<text x="293" y="440" text-anchor="middle" textLength="109.5" lengthAdjust="spacingAndGlyphs">Frequency (GHz)</text>
<text transform="translate(20.2,199.5) rotate(-90)" text-anchor="middle" textLength="101" lengthAdjust="spacingAndGlyphs">Axial Ratio (dB)</text>
</g>
<rect x="115" y="34.3" width="203.7" height="84.6" fill="#fff" stroke="#a6a6a6" stroke-width="1"/>
<g>
<path d="M121.4,44.9h0 M132.3,44.9h0 M143.2,44.9h0" stroke="#000" stroke-width="5.2" stroke-linecap="round"/>
<path d="M121.4,65.9H129.4 M138.5,65.9H146.5" stroke="#C00000" stroke-width="4.3" stroke-linecap="round"/>
<path d="M121.4,87H134 M151,87H152.9" stroke="#0070C0" stroke-width="4.4" stroke-linecap="round"/>
<path d="M121.4,108.3H152.6" stroke="#7030A0" stroke-width="4.6" stroke-linecap="round"/>
</g>
<g font-family="Liberation Sans, Arial, sans-serif" font-weight="bold" font-size="14.5" fill="#000" stroke="#000" stroke-width="0.3">
<text x="156.4" y="49.1" textLength="109.2" lengthAdjust="spacingAndGlyphs">No Metasurface</text>
<text x="156.4" y="70.1" textLength="158.1" lengthAdjust="spacingAndGlyphs">With 3 x 3 Metasurface</text>
<text x="156.4" y="91.2" textLength="158.1" lengthAdjust="spacingAndGlyphs">With 5 x 5 Metasurface</text>
<text x="156.4" y="112.6" textLength="158.1" lengthAdjust="spacingAndGlyphs">With 7 x 7 Metasurface</text>
</g>
</svg>
</body></html>
